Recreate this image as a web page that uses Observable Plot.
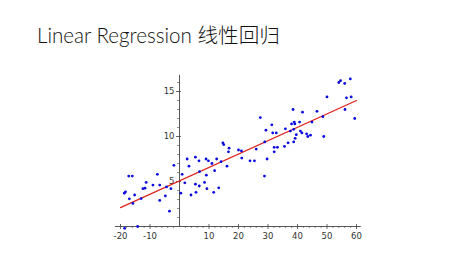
<!DOCTYPE html>
<html>
<head>
<meta charset="utf-8">
<script src="https://cdn.jsdelivr.net/npm/d3@7"></script>
<script src="https://cdn.jsdelivr.net/npm/@observablehq/plot@0.6"></script>
<style>
  html, body { margin: 0; padding: 0; background: #fff; width: 474px; height: 266px; overflow: hidden; }
  #title { position: absolute; left: 37px; top: 24px; font-family: Lato, "Noto Sans CJK SC", sans-serif; font-weight: 300; font-size: 20.6px; color: #111; white-space: nowrap; line-height: 1; }
  #title .cjk { font-family: "Noto Sans CJK SC", sans-serif; font-weight: 300; }
  #chart { position: absolute; left: 0; top: 60px; }
</style>
</head>
<body>
<div id="title">Linear Regression <span class="cjk">线性回归</span></div>
<div id="chart"></div>
<script>
// Scatter data
const xs = [-18.7,-18.3,-17.2,-16.0,-17.0,-15.8,-15.2,-18.6,-14.2,-13.0,-12.4,-11.7,-11.3,-9.0,-7.5,-6.7,-6.7,-4.8,-4.4,-3.4,-2.9,-1.9,0.45,0.9,1.8,2.6,3.2,3.9,5.4,5.4,5.6,6.6,6.8,6.7,8.5,9.0,9.1,9.3,9.8,11.0,11.6,11.9,12.6,13.3,14.1,14.7,15.0,16.1,16.6,16.8,20.0,21.0,21.1,23.9,25.4,26.0,27.4,28.8,28.9,29.3,29.7,31.3,31.6,32.1,32.1,32.8,33.2,35.6,35.9,36.8,37.6,38.0,38.5,38.7,38.7,38.9,39.1,39.2,39.6,40.7,41.0,41.5,41.7,43.1,43.5,44.4,44.9,46.6,48.6,48.9,50.0,54.0,54.6,56.0,56.1,56.6,57.9,58.2,59.4];
const ys = [3.7,3.85,5.6,5.6,3.07,2.56,3.5,-0.2,0.0,3.1,4.2,4.26,4.9,4.6,5.8,4.6,2.9,3.4,4.4,1.7,4.2,6.8,3.7,5.8,4.85,7.5,6.7,3.5,7.7,4.7,3.8,7.3,6.1,4.5,4.9,7.5,5.7,4.2,7.3,7.0,3.8,6.2,7.5,4.3,7.2,9.3,9.1,6.7,8.3,8.7,8.5,8.4,7.6,7.3,7.3,8.6,12.1,5.6,9.4,10.7,7.5,11.3,10.4,8.3,8.8,10.4,8.8,8.9,10.85,9.3,10.6,11.4,13.0,9.4,10.8,11.6,11.4,9.8,10.2,11.6,10.6,10.4,12.7,10.3,10.0,10.15,11.6,12.8,12.2,10.0,14.4,16.0,16.2,15.9,13.0,14.3,16.4,14.4,12.0];
// Regression line end points
const lineX = [-20, 60];
const lineY = [2.1, 14.0];
// Axis extents and ticks
const xAxisExtent = [-21.7, 61.6];
const yAxisExtent = [0, 16.8];
const xMajor = [-20, -10, 10, 20, 30, 40, 50, 60];
const xMinor = d3.range(-20, 61, 2).filter(v => v % 10 !== 0);
const yMajor = [5, 10, 15];
const yMinor = d3.range(1, 17, 1).filter(v => v % 5 !== 0);

const points = xs.map((x, i) => ({x, y: ys[i]}));
const line = lineX.map((x, i) => ({x, y: lineY[i]}));

const tickColor = "#444";
const labelColor = "#333";

const chart = Plot.plot({
  width: 474,
  height: 206,
  marginLeft: 120,
  marginRight: 118,
  marginTop: 31,
  marginBottom: 40,
  x: {domain: [-20, 60], axis: null},
  y: {domain: [0, 15], axis: null},
  style: {fontFamily: "DejaVu Sans, sans-serif", fontSize: "8.5px", background: "#fff"},
  marks: [
    // axes lines through origin
    Plot.ruleY([0], {x1: xAxisExtent[0], x2: xAxisExtent[1], stroke: tickColor, strokeWidth: 0.9}),
    Plot.ruleX([0], {y1: yAxisExtent[0], y2: yAxisExtent[1], stroke: tickColor, strokeWidth: 0.9}),
    // x ticks
    Plot.ruleX(xMajor, {x: d => d, y1: 0, y2: 0, insetTop: -2, insetBottom: -3, stroke: tickColor, strokeWidth: 0.8}),
    Plot.ruleX(xMinor, {x: d => d, y1: 0, y2: 0, insetTop: 0, insetBottom: -2, stroke: tickColor, strokeWidth: 0.6}),
    // y ticks
    Plot.ruleY(yMajor, {y: d => d, x1: 0, x2: 0, insetLeft: -3, insetRight: -2, stroke: tickColor, strokeWidth: 0.8}),
    Plot.ruleY(yMinor, {y: d => d, x1: 0, x2: 0, insetLeft: -2, insetRight: 0, stroke: tickColor, strokeWidth: 0.6}),
    // tick labels
    Plot.text(xMajor, {x: d => d, y: 0, text: d => String(d), dy: 10, fill: labelColor}),
    Plot.text(yMajor, {x: 0, y: d => d, text: d => String(d), dx: -5, textAnchor: "end", fill: labelColor}),
    // data
    Plot.line(line, {x: "x", y: "y", stroke: "#e0201c", strokeWidth: 1.2}),
    Plot.dot(points, {x: "x", y: "y", r: 1.4, fill: "#0a0ae0", stroke: "none"})
  ]
});
document.getElementById("chart").appendChild(chart);
</script>
</body>
</html>
